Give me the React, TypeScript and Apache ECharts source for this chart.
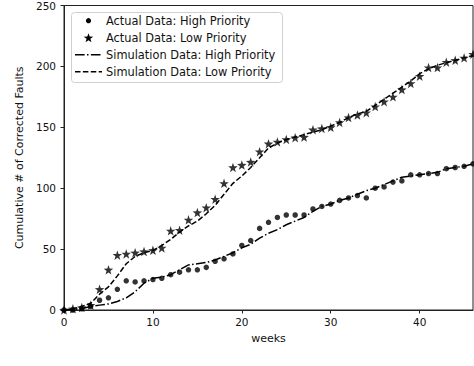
import React, { useEffect, useRef } from "react";
import * as echarts from "echarts";

const weeks = [0, 1, 2, 3, 4, 5, 6, 7, 8, 9, 10, 11, 12, 13, 14, 15, 16, 17, 18, 19, 20, 21, 22, 23, 24, 25, 26, 27, 28, 29, 30, 31, 32, 33, 34, 35, 36, 37, 38, 39, 40, 41, 42, 43, 44, 45, 46];

const actualHigh = [0, 0, 1, 3, 8, 10, 17, 24, 23, 24, 25, 26, 29, 31, 33, 33, 35, 40, 42, 46, 53, 57, 67, 72, 76, 78, 78, 78, 83, 85, 87, 90, 92, 94, 92, 100, 101, 105, 106, 111, 111, 112, 112, 116, 117, 118, 120];
const actualLow = [0, 1, 2, 4, 17, 33, 45, 46, 47, 48, 49, 51, 65, 65.5, 74, 80, 84, 91, 104, 117, 119, 121.5, 130, 136.5, 138, 140, 141.5, 142, 148, 149, 150, 154, 158, 160, 162, 167, 171, 175, 181, 186, 192, 199, 199, 203.5, 205, 207, 210];
const simHigh = [0, 0.5, 1, 3, 4, 5, 7, 10, 15, 22, 26, 27, 29, 33, 37, 38, 39, 41, 44, 47, 51, 54, 59, 63, 66, 70, 73, 76, 81, 85, 87, 90, 92, 95, 98, 100, 103, 106, 109, 110, 111, 112, 113, 116, 117, 118, 120];
const simLow = [0, 1, 3, 5.5, 13, 19, 28, 38, 44, 47, 49, 53, 58, 64, 69, 73, 79, 86, 95, 104, 110, 117, 125, 133, 137, 140, 142, 144, 146, 148, 151, 154, 158, 161, 163, 168, 173, 178, 183, 188, 194, 198, 201, 203, 205, 207, 209];

const seriesNames = [
  "Actual Data: High Priority",
  "Actual Data: Low Priority",
  "Simulation Data: High Priority",
  "Simulation Data: Low Priority",
];

const xLabel = "weeks";
const yLabel = "Cumulative # of Corrected Faults";

const STAR =
  "path://M0,-10 L2.35,-3.24 L9.51,-3.09 L3.8,1.24 L5.88,8.09 L0,4 L-5.88,8.09 L-3.8,1.24 L-9.51,-3.09 L-2.35,-3.24 Z";

const DASHDOT = [9.6, 2.4, 1.5, 2.4];
const DASHED = [5.5, 2.4];

const pairs = (ys: number[]) => weeks.map((w, i) => [w, ys[i]]);

function starPoints(cx: number, cy: number, r: number) {
  const pts: number[][] = [];
  for (let k = 0; k < 10; k++) {
    const rr = k % 2 === 0 ? r : r * 0.4;
    const a = -Math.PI / 2 + (k * Math.PI) / 5;
    pts.push([cx + rr * Math.cos(a), cy + rr * Math.sin(a)]);
  }
  return pts;
}

export default function App() {
  const ref = useRef<HTMLDivElement>(null);
  useEffect(() => {
    if (!ref.current) return;
    const chart = echarts.init(ref.current, null, { renderer: "svg" });
    const font = "DejaVu Sans";
    const ink = "#111";

    // legend drawn as graphic
    const lgX = 71;
    const lgY = 12;
    const rowY = (i: number) => lgY + 8.7 + 17 * i;
    const hx0 = 75;
    const hx1 = 102;
    const hcx = (hx0 + hx1) / 2;
    const legendEls: any[] = [
      {
        type: "rect",
        shape: { x: lgX + 0.5, y: lgY + 0.5, width: 211, height: 70, r: 3 },
        style: { fill: "rgba(255,255,255,0.85)", stroke: "#d0d0d0", lineWidth: 1 },
        z: 100,
      },
      {
        type: "circle",
        shape: { cx: hcx, cy: rowY(0), r: 2.6 },
        style: { fill: "#000" },
        z: 101,
      },
      {
        type: "polygon",
        shape: { points: starPoints(hcx, rowY(1) + 0.5, 5) },
        style: { fill: "#000" },
        z: 101,
      },
      {
        type: "line",
        shape: { x1: hx0, y1: rowY(2), x2: hx1, y2: rowY(2) },
        style: { stroke: "#000", lineWidth: 1.5, lineDash: DASHDOT },
        z: 101,
      },
      {
        type: "line",
        shape: { x1: hx0, y1: rowY(3), x2: hx1, y2: rowY(3) },
        style: { stroke: "#000", lineWidth: 1.5, lineDash: DASHED },
        z: 101,
      },
    ];
    seriesNames.forEach((n, i) => {
      legendEls.push({
        type: "text",
        x: 106,
        y: rowY(i),
        style: {
          text: n,
          fontFamily: font,
          fontSize: 11.4,
          fill: ink,
          verticalAlign: "middle",
          align: "left",
        },
        z: 101,
      });
    });

    chart.setOption({
      animation: false,
      backgroundColor: "#fff",
      textStyle: { fontFamily: font },
      grid: {
        left: 64,
        right: 1,
        top: 5,
        bottom: 56,
        show: true,
        borderColor: "#222",
        borderWidth: 1,
      },
      graphic: legendEls,
      xAxis: {
        type: "value",
        min: 0,
        max: 46,
        interval: 10,
        name: xLabel,
        nameLocation: "middle",
        nameGap: 23,
        nameTextStyle: { fontFamily: font, fontSize: 11, color: ink },
        axisLine: { show: true, lineStyle: { color: "#222", width: 1 } },
        axisTick: { show: true, length: 3.5, lineStyle: { color: "#222" } },
        axisLabel: {
          fontFamily: font,
          fontSize: 10.5,
          color: ink,
          margin: 6,
          showMaxLabel: false,
        },
        splitLine: { show: false },
      },
      yAxis: {
        type: "value",
        min: 0,
        max: 250,
        interval: 50,
        name: yLabel,
        nameLocation: "middle",
        nameGap: 31,
        nameTextStyle: { fontFamily: font, fontSize: 11, color: ink },
        axisLine: { show: true, lineStyle: { color: "#222", width: 1 } },
        axisTick: { show: true, length: 3.5, lineStyle: { color: "#222" } },
        axisLabel: { fontFamily: font, fontSize: 10.5, color: ink, margin: 8 },
        splitLine: { show: false },
      },
      series: [
        {
          name: seriesNames[0],
          type: "scatter",
          data: pairs(actualHigh),
          symbol: "circle",
          symbolSize: 5.5,
          itemStyle: { color: "#000" },
        },
        {
          name: seriesNames[1],
          type: "scatter",
          data: pairs(actualLow),
          symbol: STAR,
          symbolSize: 9.5,
          itemStyle: { color: "#000" },
        },
        {
          name: seriesNames[2],
          type: "line",
          data: pairs(simHigh),
          showSymbol: false,
          symbol: "none",
          lineStyle: { color: "#000", width: 1.5, type: DASHDOT },
        },
        {
          name: seriesNames[3],
          type: "line",
          data: pairs(simLow),
          showSymbol: false,
          symbol: "none",
          lineStyle: { color: "#000", width: 1.5, type: DASHED },
        },
      ],
    });
    return () => chart.dispose();
  }, []);
  return (
    <div
      ref={ref}
      style={{ position: "absolute", left: 0, top: 0, width: 474, height: 366 }}
    />
  );
}
